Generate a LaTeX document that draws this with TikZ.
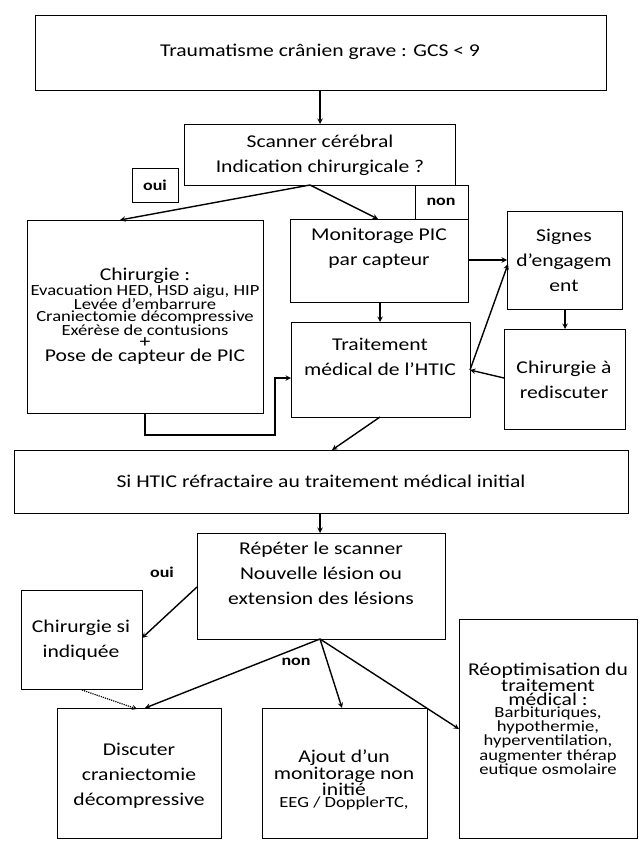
\documentclass[tikz,border=0pt]{standalone}
\usepackage{fontspec}
\setmainfont[FakeStretch=1.2]{Carlito}
\newcommand{\bgf}{\fontsize{18}{25}\selectfont}
\newcommand{\smf}{\fontsize{15.5}{20}\selectfont}
\begin{document}
\begin{tikzpicture}[x=1pt,y=-1pt,
  bx/.style={draw,line width=0.8pt,align=center,inner sep=0pt},
  ar/.style={->,>=stealth,line width=1.4pt},
  big/.style={font=\bgf},
  lb/.style={font=\bfseries\fontsize{15}{18}\selectfont}]
\useasboundingbox (0,0) rectangle (640,853);
\newcommand{\bxat}[5]{\node[bx,minimum width=#3-#1,minimum height=#4-#2] (#5) at ({(#1+#3)/2},{(#2+#4)/2}) {};}
\bxat{35}{15}{606}{90}{top}
\node[big] at (320,52) {Traumatisme crânien grave : GCS < 9};
\bxat{184}{124}{455}{185}{scan}
\node[big,align=center] at (320,155) {Scanner cérébral\\Indication chirurgicale ?};
\bxat{132}{168}{178}{202}{ouib}
\node[lb] at (ouib) {oui};
\bxat{415}{185}{468}{219}{nonb}
\node[lb] at (441,202) {non};
\bxat{27}{220}{263}{413}{chir}
\node[align=center] at (145,316) {\bgf Chirurgie :\\\smf Evacuation HED, HSD aigu, HIP\\\smf Levée d’embarrure\\\smf Craniectomie décompressive\\\smf Exérèse de contusions\\\bgf +\\\bgf Pose de capteur de PIC};
\bxat{290}{219}{468}{302}{mon}
\node[big,align=center] at (379,248) {Monitorage PIC\\par capteur};
\bxat{507}{211}{622}{309}{sig}
\node[big,align=center] at (564,260) {Signes\\d’engagem\\ent};
\bxat{291}{322}{470}{417}{trt}
\node[big,align=center] at (380,357) {Traitement\\médical de l’HTIC};
\bxat{504}{329}{625}{429}{red}
\node[big,align=center] at (564,380) {Chirurgie à\\rediscuter};
\bxat{14}{450}{628}{513}{si}
\node[big] at (si) {Si HTIC réfractaire au traitement médical initial};
\bxat{197}{533}{445}{639}{rep}
\node[big,align=center] at (321,573) {Répéter le scanner\\Nouvelle lésion ou\\extension des lésions};
\bxat{21}{590}{142}{689}{csi}
\node[big,align=center] at (81,640) {Chirurgie si\\indiquée};
\bxat{459}{619}{637}{838}{reo}
\node[align=center] at (548,720) {\bgf Réoptimisation du\\\bgf traitement\\\bgf médical :\\\smf Barbituriques,\\\smf hypothermie,\\\smf hyperventilation,\\\smf augmenter thérap\\\smf eutique osmolaire};
\bxat{57}{708}{221}{838}{dis}
\node[big,align=center] at (139,776) {Discuter\\craniectomie\\décompressive};
\bxat{262}{708}{427}{838}{ajo}
\node[align=center] at (344,780) {\bgf Ajout d’un\\\bgf monitorage non\\\bgf initié\\\smf EEG / DopplerTC,};
\node[lb] at (162,572) {oui};
\node[lb] at (296,662) {non};
% arrows
\draw[ar] (320,90) -- (320,124);
\coordinate (s0) at (310,185);
\draw[ar] (s0) -- (120,220);
\draw[ar] (s0) -- (378,219);
\draw[ar] (145,413) -- (145,435) -- (275,435) -- (275,378) -- (291,378);
\draw[ar] (380,302) -- (380,322);
\draw[ar] (468,260) -- (507,260);
\draw[ar] (470,370) -- (508,264);
\draw[ar] (504,378) -- (470,370);
\draw[ar] (565,309) -- (565,329);
\draw[ar] (380,417) -- (332,450);
\draw[ar] (320,513) -- (320,533);
\draw[ar] (197,587) -- (142,638);
\coordinate (rb) at (320,639);
\draw[ar] (rb) -- (145,708);
\draw[ar] (rb) -- (342,708);
\draw[ar] (rb) -- (459,729);
\draw[->,>=stealth,line width=1.2pt,densely dotted] (82,690) -- (137,709);
\end{tikzpicture}
\end{document}
